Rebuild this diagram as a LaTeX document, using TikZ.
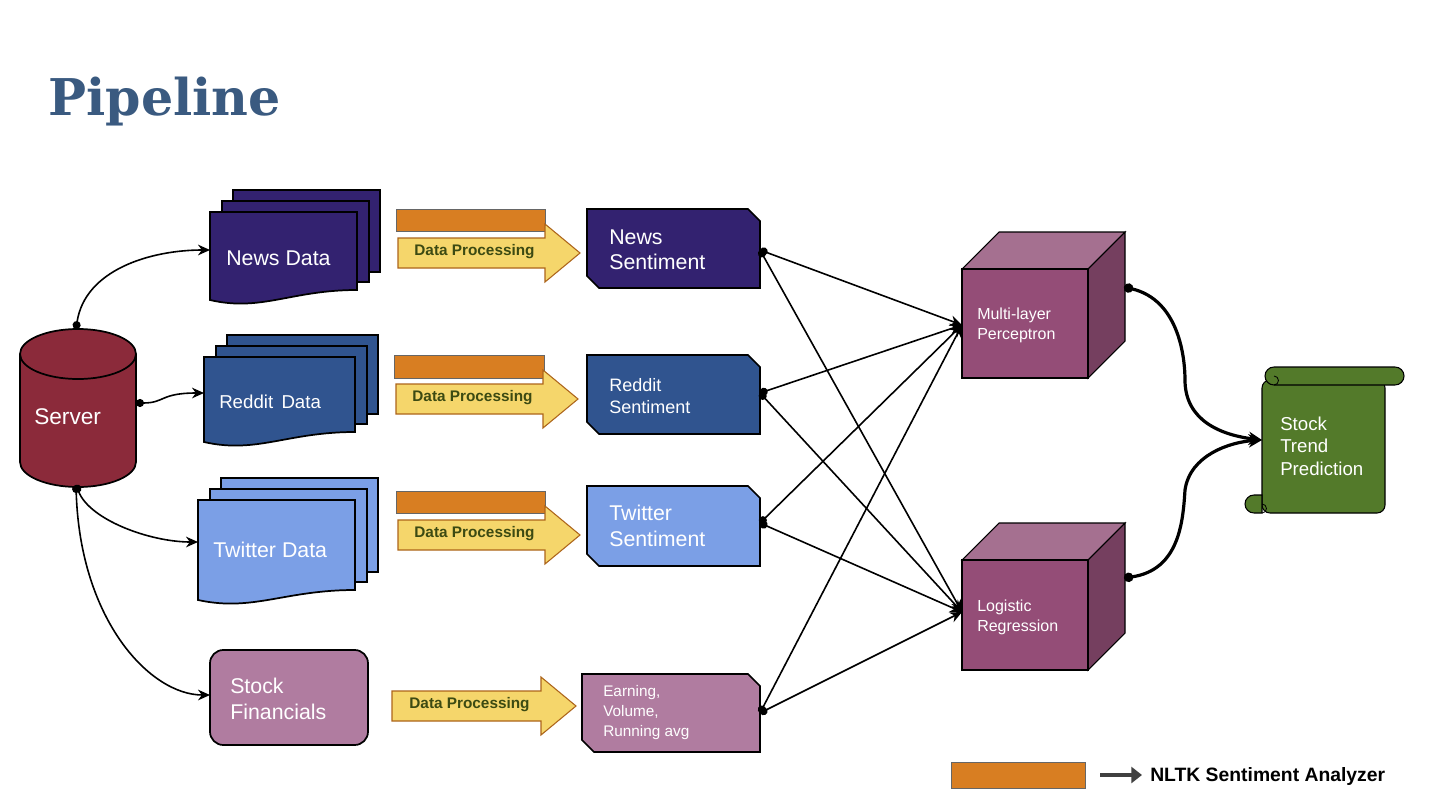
\documentclass[tikz,border=0pt]{standalone}
\usepackage{fontspec}
\setmainfont{Liberation Sans}
\newfontfamily\titlefont{DejaVu Serif}
\usetikzlibrary{arrows.meta,calc}
\definecolor{newsc}{HTML}{332270}
\definecolor{redc}{HTML}{30548F}
\definecolor{twc}{HTML}{7B9FE6}
\definecolor{stc}{HTML}{B07CA0}
\definecolor{srv}{HTML}{8B2A3A}
\definecolor{orc}{HTML}{D87E22}
\definecolor{yelc}{HTML}{F5D66B}
\definecolor{dpt}{HTML}{3C4A12}
\definecolor{cubf}{HTML}{944D77}
\definecolor{cubt}{HTML}{A57090}
\definecolor{cubs}{HTML}{753F5F}
\definecolor{scr}{HTML}{537A2A}
\definecolor{ttl}{HTML}{3A5A80}
\begin{document}
\begin{tikzpicture}[x=0.75pt,y=-0.75pt,
  ol/.style={draw=black,line width=1.3pt},
  wt/.style={text=white,align=left,anchor=west,inner sep=0pt},
  conn/.style={line width=1.2pt,{Circle[length=6pt]}-{Stealth[length=9pt,width=8pt]}},
  thick conn/.style={line width=2.4pt,{Circle[length=7pt]}-{Stealth[length=10pt,width=10pt]}},
  bar/.style={fill=orc,draw=black!60,line width=0.5pt},
  dp/.style={fill=yelc,draw=orc!80!black,line width=0.8pt}]
\useasboundingbox (0,0) rectangle (1440,810);
\fill[white] (0,0) rectangle (1440,810);
% title
\node[anchor=west,inner sep=0pt,text=ttl,font=\titlefont\bfseries\fontsize{38}{44}\selectfont] (title) at (48,102) {Pipeline};
% server
\fill[srv,ol] (20,354) -- (20,462) arc[start angle=180,end angle=0,x radius=58,y radius=25] -- (136,354) arc[start angle=0,end angle=-180,x radius=58,y radius=25] -- cycle;
\draw[ol] (20,354) arc[start angle=180,end angle=0,x radius=58,y radius=25];
\node[wt,font=\fontsize{17}{20}\selectfont] (server) at (34,417) {Server};
\coordinate (srvT) at (76,329);
\coordinate (srvR) at (136,403);
\coordinate (srvB) at (76,485);
% document stacks
\newcommand{\docpage}[5]{% x1 y1 x2 yb color
  \fill[#5,ol] (#1,#2) -- (#3,#2) -- (#3,#4) .. controls ({#3-0.45*(#3-#1)},#4) and ({#1+0.35*(#3-#1)},{#4+22}) .. (#1,{#4+10}) -- cycle;}
\newcommand{\stack}[5]{%
  \fill[#5,ol] ({#1+23},{#2-22}) rectangle ({#3+23},{#4-18});
  \fill[#5,ol] ({#1+12},{#2-11}) rectangle ({#3+12},{#4-8});
  \docpage{#1}{#2}{#3}{#4}{#5}}
\stack{210}{212}{357}{290}{newsc}
\stack{204}{357}{355}{432}{redc}
\stack{198}{500}{355}{590}{twc}
\node[wt,font=\fontsize{16}{19}\selectfont] (news) at (226,258) {News Data};
\node[wt,font=\fontsize{14}{17}\selectfont] (reddit) at (219,402) {Reddit\, Data};
\node[wt,font=\fontsize{16}{19}\selectfont] (twitter) at (213,550) {Twitter Data};
\coordinate (newsL) at (210,250);
\coordinate (redL) at (204,393);
\coordinate (twL) at (198,542);
% stock financials
\draw[fill=stc,ol,rounded corners=10pt] (210,650) rectangle (368,745);
\node[wt,font=\fontsize{16}{19}\selectfont] (stock) at (230,699) {Stock\\Financials};
\coordinate (stL) at (210,695);
% orange bars
\fill[bar] (396,209) rectangle (545,231);
\fill[bar] (394,355) rectangle (544,378);
\fill[bar] (396,491) rectangle (545,513);
% data processing arrows
\newcommand{\dparrow}[4]{% x1 ymid x2 name
  \draw[dp] (#1,{#2-15}) -- ({#3-35},{#2-15}) -- ({#3-35},{#2-29}) -- (#3,#2) -- ({#3-35},{#2+29}) -- ({#3-35},{#2+15}) -- (#1,{#2+15}) -- cycle;
  \node[text=dpt,font=\bfseries\fontsize{11.5}{13}\selectfont,inner sep=0pt] (#4) at ({(#1+#3-35)/2+3},{#2-1}) {Data Processing};}
\dparrow{398}{253}{580}{dp1}
\dparrow{396}{399}{578}{dp2}
\dparrow{398}{535}{580}{dp3}
\dparrow{392}{706}{576}{dp4}
% sentiment cards
\newcommand{\card}[5]{%
  \fill[#5,ol] (#1,#2) -- ({#3-12},#2) -- (#3,{#2+12}) -- (#3,#4) -- ({#1+12},#4) -- (#1,{#4-12}) -- cycle;}
\card{587}{209}{760}{288}{newsc}
\card{587}{355}{760}{434}{redc}
\card{587}{486}{760}{566}{twc}
\card{582}{674}{760}{752}{stc}
\node[wt,font=\fontsize{16}{19}\selectfont] (ns) at (609,250) {News\\Sentiment};
\node[wt,font=\fontsize{13.5}{17}\selectfont] (rs) at (609,396) {Reddit\\Sentiment};
\node[wt,font=\fontsize{16}{19}\selectfont] (ts) at (609,526) {Twitter\\Sentiment};
\node[wt,font=\fontsize{11.5}{15}\selectfont] (es) at (603,713) {Earning,\\Volume,\\Running avg};
\coordinate (nsR) at (760,250);
\coordinate (rsR) at (760,393);
\coordinate (tsR) at (760,523);
\coordinate (esR) at (760,713);
% cubes
\newcommand{\cube}[4]{% x1 y1 x2 y2
  \fill[cubt,draw=black,line width=0.8pt] (#1,#2) -- ({#1+37},{#2-37}) -- ({#3+37},{#2-37}) -- (#3,#2) -- cycle;
  \fill[cubs,draw=black,line width=0.8pt] (#3,#2) -- ({#3+37},{#2-37}) -- ({#3+37},{#4-37}) -- (#3,#4) -- cycle;
  \fill[cubf,draw=black,line width=0.8pt] (#1,#2) rectangle (#3,#4);}
\cube{962}{269}{1088}{378}
\cube{962}{560}{1088}{670}
\node[wt,font=\fontsize{12}{15}\selectfont] (mlp) at (977,325) {Multi-layer\\Perceptron};
\node[wt,font=\fontsize{12}{15}\selectfont] (lr) at (977,617) {Logistic\\Regression};
\coordinate (mlpL) at (962,325);
\coordinate (lrL) at (962,612);
\coordinate (mlpR) at (1124,287);
\coordinate (lrR) at (1124,578);
% scroll
\fill[scr,draw=black,line width=0.8pt,rounded corners=6pt] (1262,380) -- (1385,380) -- (1385,513) -- (1262,513) -- cycle;
\fill[scr,draw=black,line width=0.8pt] (1274,367) -- (1395,367) arc[start angle=-90,end angle=90,radius=9] -- (1274,385) arc[start angle=90,end angle=270,radius=9] -- cycle;
\draw[line width=0.6pt] (1274,376) arc[start angle=-90,end angle=90,radius=4.5];
\fill[scr,draw=black,line width=0.8pt] (1262,495) -- (1254,495) arc[start angle=270,end angle=90,radius=9] -- (1262,513) -- cycle;
\draw[line width=0.6pt] (1262,504) arc[start angle=-90,end angle=90,radius=4.5];
\node[wt,font=\fontsize{14}{17}\selectfont] (pred) at (1280,446) {Stock\\Trend\\Prediction};
\coordinate (scrL) at (1262,440);
% legend
\fill[bar] (951,762) rectangle (1085,788);
\coordinate (lgA) at (1100,775);
\coordinate (lgB) at (1142,775);
\draw[line width=3pt,draw=black!75,-{Triangle[length=8pt,width=12pt]}] (lgA) -- (lgB);
\node[anchor=west,inner sep=0pt,font=\bfseries\fontsize{14.5}{17}\selectfont] (legend) at (1150,776) {NLTK Sentiment Analyzer};
% connectors
\draw[conn] (srvT) .. controls (85,270) and (150,250) .. (newsL);
\draw[conn] (srvR) .. controls (165,403) and (160,393) .. (redL);
\draw[conn] (srvB) .. controls (90,520) and (150,542) .. (twL);
\draw[conn] (srvB) .. controls (80,620) and (150,695) .. (stL);
\foreach \s in {nsR,rsR,tsR,esR}{
  \draw[conn] (\s) -- (mlpL);
  \draw[conn] (\s) -- (lrL);
}
\draw[thick conn] (mlpR) .. controls (1180,300) and (1185,360) .. (1185,380) .. controls (1185,420) and (1220,435) .. (scrL);
\draw[thick conn] (lrR) .. controls (1180,570) and (1183,520) .. (1185,490) .. controls (1190,455) and (1230,442) .. (scrL);
\end{tikzpicture}
\end{document}
